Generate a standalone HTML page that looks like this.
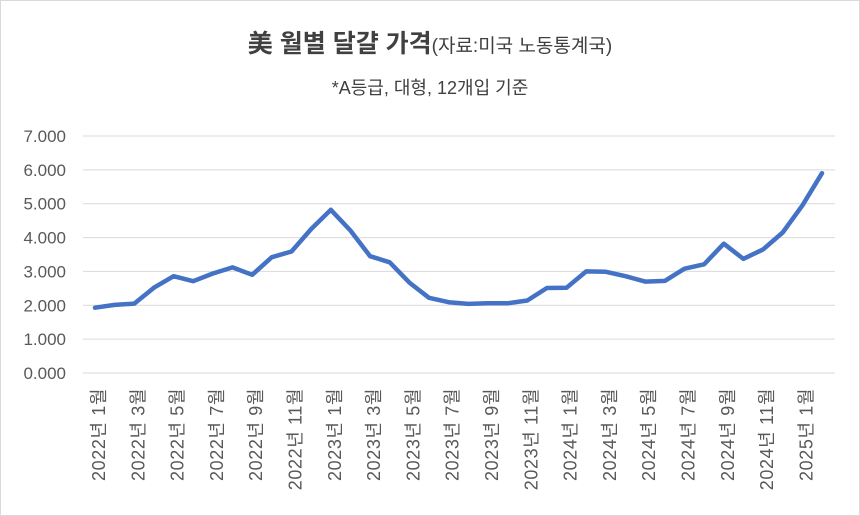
<!DOCTYPE html>
<html><head><meta charset="utf-8"><style>
body{margin:0;background:#fff;}
svg{display:block;font-family:"Liberation Sans","Noto Sans CJK KR",sans-serif;}
</style></head><body>
<svg id="chart" width="860" height="516" viewBox="0 0 860 516">
<rect x="0.5" y="0.5" width="859" height="515" fill="#fff" stroke="#d9d9d9"/>
<text x="430" y="52" text-anchor="middle" fill="#404040"><tspan font-size="25" font-weight="bold">美 월별 달걀 가격</tspan><tspan font-size="19">(자료:미국 노동통계국)</tspan></text>
<text x="430" y="94" text-anchor="middle" font-size="18" fill="#404040">*A등급, 대형, 12개입 기준</text>
<g id="grid"></g><g id="yt"></g><g id="xt"></g>
<path id="line" fill="none" stroke="#4472c4" stroke-width="4.5" stroke-linejoin="round" stroke-linecap="round"/>
</svg>
<script>
const months=["2022년 1월","2022년 2월","2022년 3월","2022년 4월","2022년 5월","2022년 6월","2022년 7월","2022년 8월","2022년 9월","2022년 10월","2022년 11월","2022년 12월","2023년 1월","2023년 2월","2023년 3월","2023년 4월","2023년 5월","2023년 6월","2023년 7월","2023년 8월","2023년 9월","2023년 10월","2023년 11월","2023년 12월","2024년 1월","2024년 2월","2024년 3월","2024년 4월","2024년 5월","2024년 6월","2024년 7월","2024년 8월","2024년 9월","2024년 10월","2024년 11월","2024년 12월","2025년 1월","2025년 2월"];
const prices=[1.93,2.01,2.05,2.52,2.86,2.71,2.94,3.12,2.90,3.42,3.59,4.25,4.82,4.21,3.45,3.27,2.67,2.22,2.09,2.04,2.06,2.06,2.14,2.51,2.52,3.00,2.99,2.86,2.70,2.72,3.08,3.21,3.82,3.37,3.65,4.15,4.95,5.90];
const yTicks=[0,1,2,3,4,5,6,7];
const NS="http://www.w3.org/2000/svg";
const x0=95,x1=822,yb=373,yt=136,ymax=7;
const X=i=>x0+(x1-x0)*i/(months.length-1);
const Y=v=>yb-(yb-yt)*v/ymax;
const grid=document.getElementById('grid'),ytg=document.getElementById('yt'),xtg=document.getElementById('xt');
yTicks.forEach(t=>{
 const l=document.createElementNS(NS,'line');
 l.setAttribute('x1',83);l.setAttribute('x2',835);l.setAttribute('y1',Y(t));l.setAttribute('y2',Y(t));
 l.setAttribute('stroke','#d9d9d9');l.setAttribute('stroke-width','1');
 
 
 grid.appendChild(l);
 const tx=document.createElementNS(NS,'text');
 tx.setAttribute('x',66);tx.setAttribute('y',Y(t)+6);tx.setAttribute('text-anchor','end');
 tx.setAttribute('font-size','17');tx.setAttribute('fill','#595959');
 tx.textContent=t.toFixed(3);
 
 
 ytg.appendChild(tx);
});
months.forEach((m,i)=>{
 if(i%2)return;
 const tx=document.createElementNS(NS,'text');
 const x=X(i)+10,y=388;
 tx.setAttribute('x',x);tx.setAttribute('y',y);tx.setAttribute('text-anchor','end');
 tx.setAttribute('transform','rotate(-90 '+x+' '+y+')');
 tx.setAttribute('font-size','18');tx.setAttribute('fill','#595959');
 tx.setAttribute('letter-spacing','0.6');
 tx.textContent=m;
 
 
 xtg.appendChild(tx);
});
document.getElementById('line').setAttribute('d',prices.map((v,i)=>(i?'L':'M')+X(i).toFixed(1)+' '+Y(v).toFixed(1)).join(' '));
</script>
</body></html>
